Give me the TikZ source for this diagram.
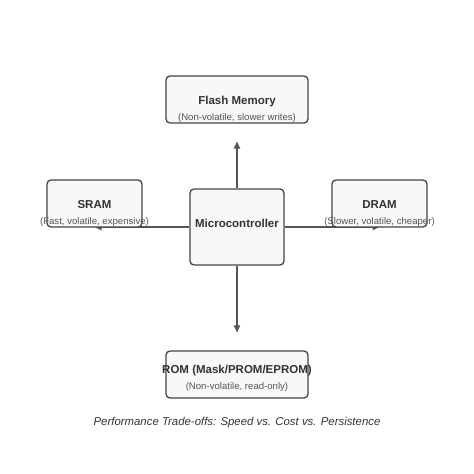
\documentclass[tikz,border=0pt]{standalone}
\usepackage{fontspec}
\setmainfont{Liberation Sans}
\usepackage{xcolor}
\definecolor{MemInk}{HTML}{333333}
\definecolor{MemSub}{HTML}{555555}
\definecolor{MemEdge}{HTML}{444444}
\definecolor{MemFill}{HTML}{F8F8F8}
\definecolor{MemWire}{HTML}{555555}
\usepackage{tikz}
\usetikzlibrary{positioning,arrows.meta,backgrounds,calc}
\tikzset{
  membox/.style={draw=MemEdge,fill=MemFill,rounded corners=4pt,line width=1.3pt,inner sep=0pt,minimum height=47pt},
  memtext/.style={align=center,text=MemInk,inner sep=0pt,font=\fontsize{11.5}{15.5}\selectfont\bfseries},
  memflow/.style={-{Triangle[length=7pt,width=6.5pt]},draw=MemWire,line width=1.2pt,shorten >=18pt}
}
\newcommand{\memsub}[1]{{\fontsize{9.6}{15.5}\selectfont\mdseries\color{MemSub}#1}}

\begin{document}
\begin{tikzpicture}[x=1pt,y=-1pt]
  \useasboundingbox (0,0) rectangle (474,474);
  \node[membox,minimum width=94pt,minimum height=76pt] (mcu) at (237,227) {};
  \node[membox,minimum width=142pt] (flash) at (237,99.5) {};
  \node[membox,minimum width=95pt] (sram) at (94.5,203.5) {};
  \node[membox,minimum width=95pt] (dram) at (379.5,203.5) {};
  \node[membox,minimum width=142pt] (rom) at (237,374.5) {};
  \node[memtext] (mcutxt) at ([yshift=4pt]mcu.center) {Microcontroller};
  \node[memtext] (flashtxt) at ([yshift=-10pt]flash.center) {Flash Memory\\\memsub{(Non-volatile, slower writes)}};
  \node[memtext] (sramtxt) at ([yshift=-10pt]sram.center) {SRAM\\\memsub{(Fast, volatile, expensive)}};
  \node[memtext] (dramtxt) at ([yshift=-10pt]dram.center) {DRAM\\\memsub{(Slower, volatile, cheaper)}};
  \node[memtext] (romtxt) at ([yshift=-4pt]rom.center) {ROM (Mask/PROM/EPROM)\\\memsub{(Non-volatile, read-only)}};
  \node[font=\fontsize{11.4}{14}\selectfont\itshape,text=MemInk] (caption) at (237,423) {Performance Trade-offs: Speed vs. Cost vs. Persistence};
  \begin{scope}[on background layer]
    \draw[memflow] (mcu.north) -- (flash.south);
    \draw[memflow] (mcu.south) -- (rom.north);
    \draw[memflow,shorten >=0pt] (mcu.west) -- (sram.center |- mcu.west);
    \draw[memflow,shorten >=0pt] (mcu.east) -- (dram.center |- mcu.east);
  \end{scope}
\end{tikzpicture}
\end{document}
